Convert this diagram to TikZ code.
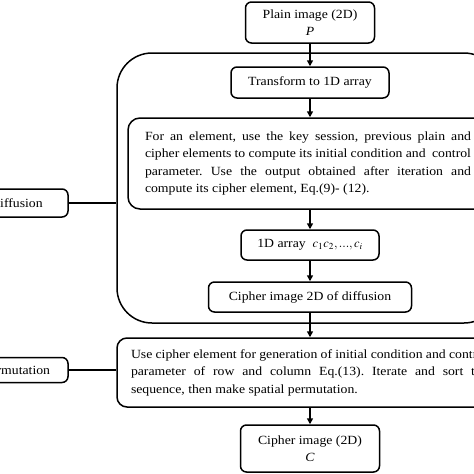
\documentclass[tikz,border=0pt]{standalone}
\usepackage{mathptmx}
\usepackage{fontspec}
\setmainfont{Liberation Serif}[FakeStretch=1.1]
\usetikzlibrary{arrows.meta}
\frenchspacing

\begin{document}
\begin{tikzpicture}[x=1pt, y=-1pt, line width=1.5pt,
	every node/.style={font=\fontsize{12.5}{17.5}\selectfont},
	box/.style={draw, rounded corners=6pt, inner sep=0pt, align=center},
	txtbox/.style={draw, rounded corners=12pt, inner ysep=0pt, align=justify},
	link/.style={-{Triangle[length=6pt,width=6pt]}}]
	\fill[white] (0,0) rectangle (474,474);
	\useasboundingbox (0,0) rectangle (474,474);
	\clip (0,0) rectangle (474,474);
	
	\node[draw, rounded corners=35pt, minimum width=382pt, minimum height=270pt] (diff) at (308,188) {};
	
	\node[box, minimum width=129pt, minimum height=41pt] (plain) at (310,22.5) {Plain image (2D)\\ \textit{P}};
	\node[box, minimum width=158pt, minimum height=31pt] (trans) at (310,82.5) {Transform to 1D array};
	\node[txtbox, text width=326pt, inner xsep=17pt, minimum height=91pt] (elem) at (308,163.5) {For an element, use the key session, previous plain and\linebreak cipher elements to compute its initial condition and~ control\linebreak parameter. Use the output obtained after iteration and\linebreak compute its cipher element, Eq.(9)- (12).};
	\node[box, minimum width=138pt, minimum height=30pt] (array) at (310,245) {1D array~ $c_1c_2,...,c_i$};
	\node[box, minimum width=203pt, minimum height=30pt] (cdiff) at (310,297) {Cipher image 2D of diffusion};
	\node[box, minimum width=103pt, minimum height=28pt] (dlabel) at (16.5,203) {Diffusion};
	
	\node[txtbox, rounded corners=10pt, text width=357pt, inner xsep=14pt, minimum height=69pt] (perm) at (309.5,372.5) {Use cipher element for generation of initial condition and control\linebreak parameter of row and column Eq.(13). Iterate and sort the\linebreak sequence, then make spatial permutation.};
	\node[box, minimum width=103pt, minimum height=25pt] (plabel) at (16.5,370) {Permutation};
	\node[box, minimum width=139pt, minimum height=47pt] (cipher) at (310,448.5) {Cipher image (2D)\\ \textit{C}};
	
	\draw[link] (plain) -- (trans);
	\draw[link] (trans) -- (trans |- elem.north);
	\draw[link] (elem.south -| array) -- (array);
	\draw[link] (array) -- (cdiff);
	\draw[link] (cdiff) -- (cdiff |- perm.north);
	\draw[link] (perm.south -| cipher) -- (cipher);
	\draw (dlabel) -- (dlabel -| diff.west);
	\draw (plabel) -- (plabel -| perm.west);
\end{tikzpicture}
\end{document}
